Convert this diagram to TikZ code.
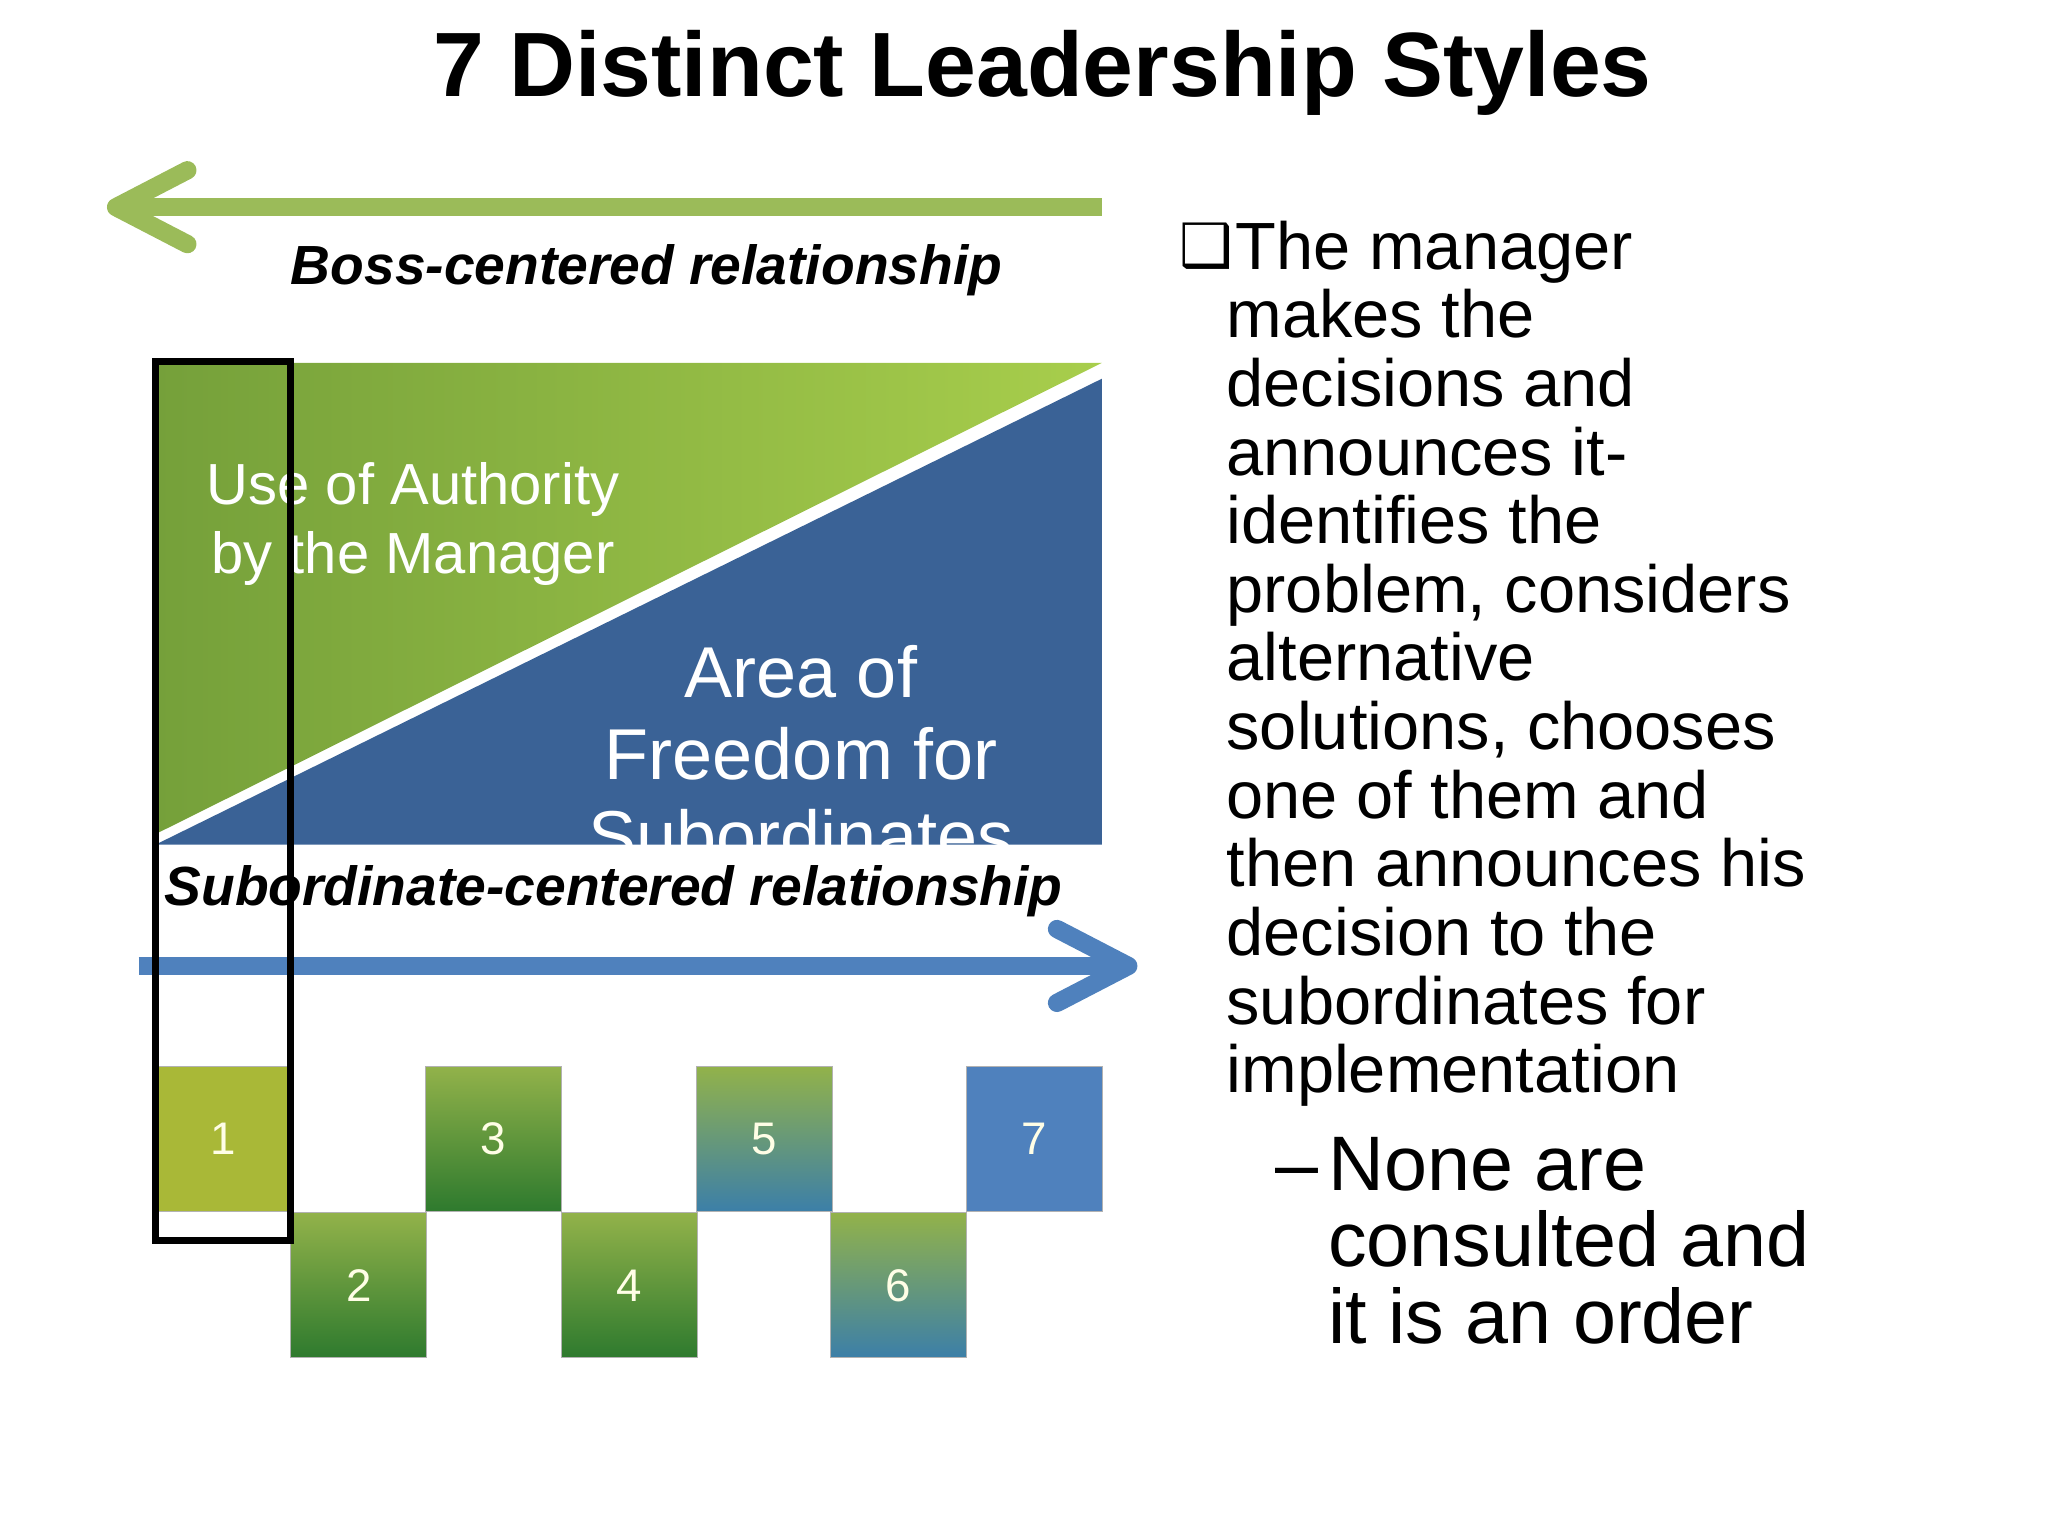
\documentclass[tikz,border=0pt]{standalone}
\usepackage{fontspec}
\setmainfont{Liberation Sans}
\newfontfamily\djv{DejaVu Sans}
\definecolor{lgreen}{HTML}{9BBB59}
\definecolor{dgreen}{HTML}{75A03A}
\definecolor{tgreen}{HTML}{A8CE4C}
\definecolor{areablue}{HTML}{3A6296}
\definecolor{lblue}{HTML}{4F81BD}
\definecolor{boxyel}{HTML}{A9B837}
\definecolor{boxdk}{HTML}{2E7A2E}
\definecolor{boxlt}{HTML}{92B24A}
\definecolor{boxbl}{HTML}{3C7FA8}
\begin{document}
\begin{tikzpicture}[x=0.013196cm,y=-0.013196cm,
  rtext/.style={anchor=base west,inner sep=0,font=\fontsize{19}{19}\selectfont},
  stext/.style={anchor=base west,inner sep=0,font=\fontsize{22}{22}\selectfont},
  lab/.style={font=\fontsize{15.7}{15.7}\selectfont\bfseries\itshape},
  numbox/.style={minimum width=1.36cm,minimum height=1.45cm,inner sep=0,draw=gray!60,line width=0.3pt,text=white!90!yellow,font=\fontsize{13}{13}\selectfont}]
\useasboundingbox (0,0) rectangle (1552,1164);
\node[font=\fontsize{26}{26}\selectfont\bfseries] (title) at (790,55) {7 Distinct Leadership Styles};
% green arrow
\coordinate (ga1) at (835,157); \coordinate (ga2) at (88,157);
\draw[lgreen,line width=5.2pt] (ga1) -- (ga2);
\draw[lgreen,line width=5.2pt,line cap=round,line join=round] (142,129) -- (ga2) -- (142,185);
\node[lab] (boss) at (490,205) {Boss-centered relationship};
% triangles
\shade[left color=dgreen,right color=tgreen] (118,275) -- (835,275) -- (118,632) -- cycle;
\fill[areablue] (118,640) -- (835,287) -- (835,640) -- cycle;
\node[white,align=center,font=\fontsize{16.5}{19.5}\selectfont] (auth) at (313,397) {Use of Authority\\by the Manager};
\begin{scope}
\clip (118,287) rectangle (835,640);
\node[white,align=center,font=\fontsize{20.5}{23.3}\selectfont,anchor=north] (area) at (607,480) {Area of\\Freedom for\\Subordinates};
\end{scope}
\node[lab] (sub) at (465,675) {Subordinate-centered relationship};
% blue arrow
\coordinate (ba1) at (105,732); \coordinate (ba2) at (855,732);
\draw[lblue,line width=5.2pt] (ba1) -- (ba2);
\draw[lblue,line width=5.2pt,line cap=round,line join=round] (801,704) -- (ba2) -- (801,760);
% boxes
\node[numbox,fill=boxyel] (b1) at (169,863) {1};
\node[numbox,top color=boxlt,bottom color=boxdk] (b2) at (272,974) {2};
\node[numbox,top color=boxlt,bottom color=boxdk] (b3) at (374,863) {3};
\node[numbox,top color=boxlt,bottom color=boxdk] (b4) at (477,974) {4};
\node[numbox,top color=boxlt,bottom color=boxbl] (b5) at (579,863) {5};
\node[numbox,top color=boxlt,bottom color=boxbl] (b6) at (681,974) {6};
\node[numbox,fill=lblue] (b7) at (784,863) {7};
\draw[black,line width=1.9pt] (118,274) rectangle (220,940);
% right text
\node[anchor=base west,inner sep=0,font=\djv\fontsize{17}{17}\selectfont] (bul) at (893,202) {❑};
\node[rtext] (l1) at (936,204) {The manager};
\node[rtext] (l2) at (929,256) {makes the};
\node[rtext] (l3) at (929,308) {decisions and};
\node[rtext] (l4) at (929,360) {announces it-};
\node[rtext] (l5) at (929,412) {identifies the};
\node[rtext] (l6) at (929,464) {problem, considers};
\node[rtext] (l7) at (929,516) {alternative};
\node[rtext] (l8) at (929,568) {solutions, chooses};
\node[rtext] (l9) at (929,620) {one of them and};
\node[rtext] (l10) at (929,672) {then announces his};
\node[rtext] (l11) at (929,724) {decision to the};
\node[rtext] (l12) at (929,776) {subordinates for};
\node[rtext] (l13) at (929,828) {implementation};
\node[stext] (d) at (966,902) {–};
\node[stext] (s1) at (1006,902) {None are};
\node[stext] (s2) at (1006,960) {consulted and};
\node[stext] (s3) at (1006,1018) {it is an order};
\end{tikzpicture}
\end{document}
